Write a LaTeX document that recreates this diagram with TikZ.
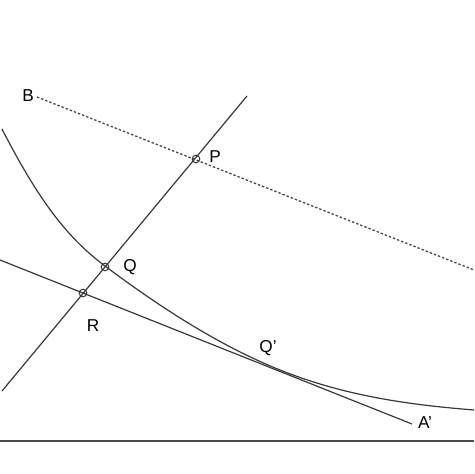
\documentclass[tikz,border=0pt]{standalone}
\usepackage{fontspec}
\setmainfont{Liberation Sans}
\begin{document}
\begin{tikzpicture}[x=0.5pt,y=-0.5pt,
  ln/.style={draw=black!78,line width=0.6pt},
  dotln/.style={draw=black!72,line width=0.65pt,dash pattern=on 1.2pt off 1pt},
  pt/.style={circle,draw=black!80,line width=0.5pt,inner sep=0pt,minimum size=3.8pt},
  lbl/.style={font=\fontsize{8.6}{10}\selectfont,text=black,inner sep=0pt}]
\useasboundingbox (0,0) rectangle (474,474);
% points
\coordinate (L1a) at (247,96);
\coordinate (L1b) at (2,391);
\coordinate (Bs) at (37,97);
\coordinate (Be) at (474,270);
\coordinate (L2a) at (0,260);
\coordinate (Ae) at (412,424);
\coordinate (Ba) at (0,441);
\coordinate (Bb) at (474,441);
\coordinate (C0) at (2,129);
\coordinate (C1) at (105,266);
\coordinate (C2) at (280,370);
\coordinate (C3) at (474,410);
% curve
\draw[ln] (C0) .. controls (42,207) and (71,240.5) .. (C1)
               .. controls (163,309.5) and (222,346.8) .. (C2)
               .. controls (345,396) and (409,404.8) .. (C3);
% lines
\draw[ln] (L1a) -- (L1b);
\draw[dotln] (Bs) -- (Be);
\draw[ln] (L2a) -- (Ae);
\draw[draw=black!70,line width=0.85pt] (Ba) -- (Bb);
% marked points
\node[pt] (P) at (196,159) {};
\node[pt] (Q) at (105,267) {};
\node[pt] (R) at (83,293) {};
% labels
\node[lbl] (lB) at (28,96) {B};
\node[lbl] (lP) at (215,157) {P};
\node[lbl] (lQ) at (130,267) {Q};
\node[lbl] (lR) at (93,326) {R};
\node[lbl] (lQp) at (268,348) {Q'};
\node[lbl] (lA) at (425,423) {A'};
\end{tikzpicture}
\end{document}
